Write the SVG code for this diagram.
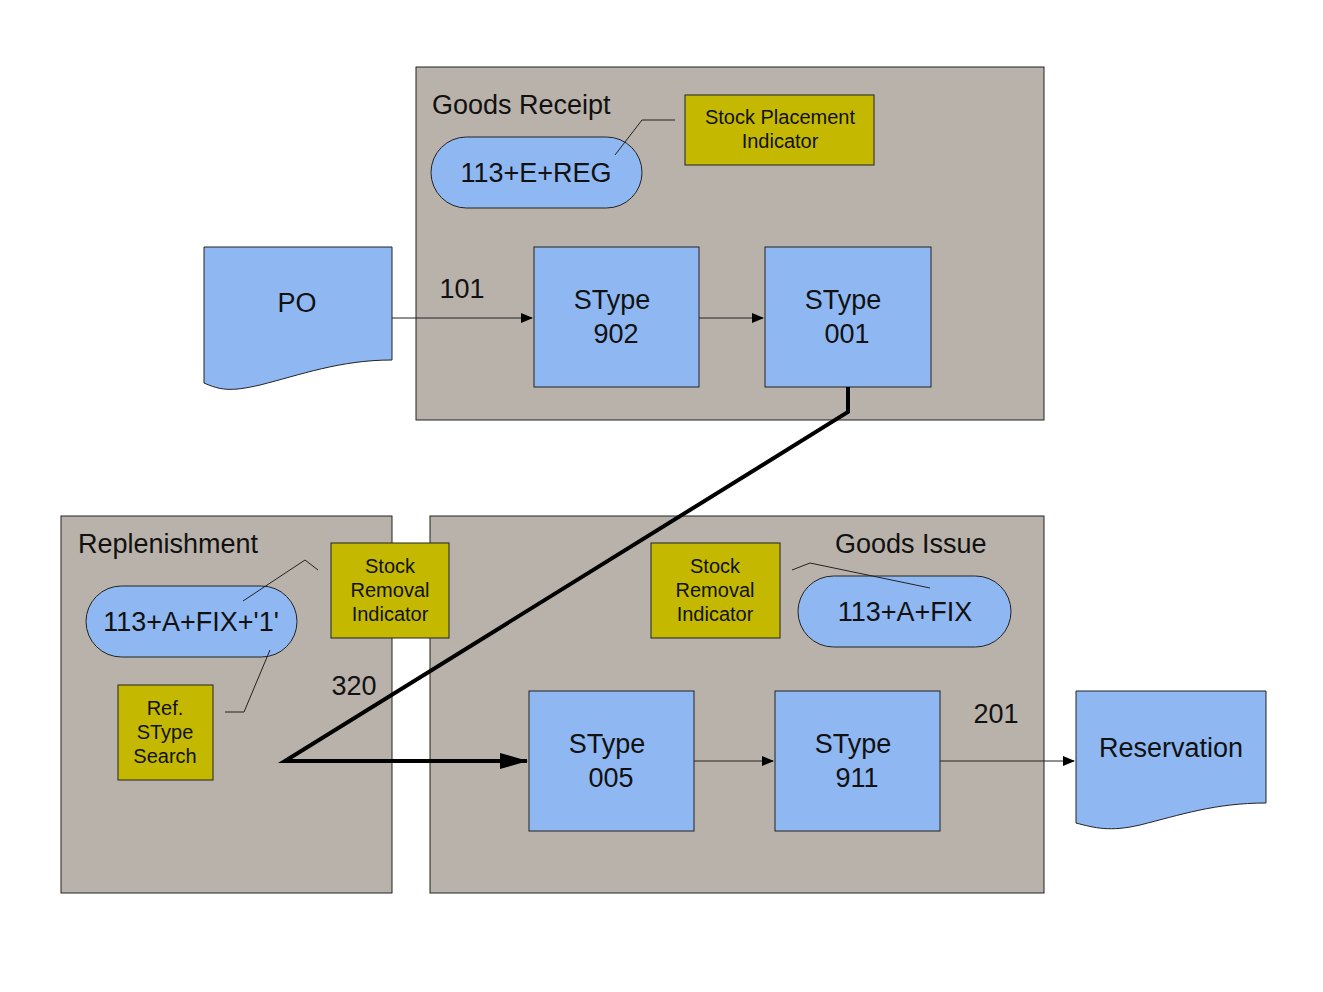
<svg xmlns="http://www.w3.org/2000/svg" width="1323" height="992" viewBox="0 0 1323 992">
<style>
text{font-family:"Liberation Sans",Arial,sans-serif;fill:#111;text-anchor:middle}
.area{fill:#b9b2aa;stroke:#222;stroke-width:1}
.box{fill:#8fb8f2;stroke:#222;stroke-width:1}
.ind{fill:#c4b900;stroke:#222;stroke-width:1}
.big{font-size:27px}
.mid{font-size:20px}
.lbl{font-size:27px;text-anchor:start}
.thin{stroke:#222;stroke-width:1;fill:none}
</style>
<defs>
<marker id="a" markerWidth="12" markerHeight="10" refX="11" refY="5" orient="auto" markerUnits="userSpaceOnUse"><path d="M0,0L12,5L0,10z" fill="#000"/></marker>
<marker id="ab" markerWidth="28" markerHeight="20" refX="27" refY="10" orient="auto" markerUnits="userSpaceOnUse"><path d="M0,2L28,10L0,18z" fill="#000"/></marker>
</defs>
<rect width="1323" height="992" fill="#fff"/>
<g id="goods-receipt"><rect class="area" x="416" y="67" width="628" height="353"/><text class="lbl" x="432" y="114">Goods Receipt</text></g>
<g id="replenishment"><rect class="area" x="61" y="516" width="331" height="377"/><text class="lbl" x="78" y="553">Replenishment</text></g>
<g id="goods-issue"><rect class="area" x="430" y="516" width="614" height="377"/><text class="lbl" x="835" y="553">Goods Issue</text></g>
<g id="po"><path class="box" d="M204,247H392V360C340,360 300,375 260,385C230,392 220,390 204,383Z"/><text class="big" x="297" y="312">PO</text></g>
<g id="reservation"><path class="box" d="M1076,691H1266V803C1215,803 1180,815 1140,825C1110,832 1095,828 1076,823Z"/><text class="big" x="1171" y="757">Reservation</text></g>
<g id="s902"><rect class="box" x="534" y="247" width="165" height="140"/><text class="big" x="612" y="309">SType</text><text class="big" x="616" y="343">902</text></g>
<g id="s001"><rect class="box" x="765" y="247" width="166" height="140"/><text class="big" x="843" y="309">SType</text><text class="big" x="847" y="343">001</text></g>
<g id="s005"><rect class="box" x="529" y="691" width="165" height="140"/><text class="big" x="607" y="753">SType</text><text class="big" x="611" y="787">005</text></g>
<g id="s911"><rect class="box" x="775" y="691" width="165" height="140"/><text class="big" x="853" y="753">SType</text><text class="big" x="857" y="787">911</text></g>
<g id="e-reg"><rect class="box" x="431" y="137" width="211" height="71" rx="35.5"/><text class="big" x="536" y="182">113+E+REG</text></g>
<g id="a-fix-1"><rect class="box" x="86" y="586" width="211" height="71" rx="35.5"/><text class="big" x="191" y="631">113+A+FIX+'1'</text></g>
<g id="a-fix"><rect class="box" x="798" y="576" width="213" height="71" rx="35.5"/><text class="big" x="905" y="621">113+A+FIX</text></g>
<g id="spi"><rect class="ind" x="685" y="95" width="189" height="70"/><text class="mid" x="780" y="124">Stock Placement</text><text class="mid" x="780" y="148">Indicator</text></g>
<g id="sri1"><rect class="ind" x="331" y="543" width="118" height="95"/><text class="mid" x="390" y="573">Stock</text><text class="mid" x="390" y="597">Removal</text><text class="mid" x="390" y="621">Indicator</text></g>
<g id="sri2"><rect class="ind" x="651" y="543" width="129" height="95"/><text class="mid" x="715" y="573">Stock</text><text class="mid" x="715" y="597">Removal</text><text class="mid" x="715" y="621">Indicator</text></g>
<g id="ref"><rect class="ind" x="118" y="685" width="95" height="95"/><text class="mid" x="165" y="715">Ref.</text><text class="mid" x="165" y="739">SType</text><text class="mid" x="165" y="763">Search</text></g>
<g id="connectors">
<path class="thin" d="M392,318H532" marker-end="url(#a)"/>
<path class="thin" d="M699,318H763" marker-end="url(#a)"/>
<path class="thin" d="M694,761H773" marker-end="url(#a)"/>
<path class="thin" d="M940,761H1074" marker-end="url(#a)"/>
<path d="M848,387V412L285,761H527" fill="none" stroke="#000" stroke-width="4" stroke-linejoin="miter" marker-end="url(#ab)"/>
<path class="thin" d="M615,155L642,120H675"/>
<path class="thin" d="M243,601L305,560L318,570"/>
<path class="thin" d="M270,650L244,712H225"/>
<path class="thin" d="M930,588L810,563L792,570"/>
<text class="big" x="462" y="298">101</text>
<text class="big" x="354" y="695">320</text>
<text class="big" x="996" y="723">201</text>
</g>
</svg>
